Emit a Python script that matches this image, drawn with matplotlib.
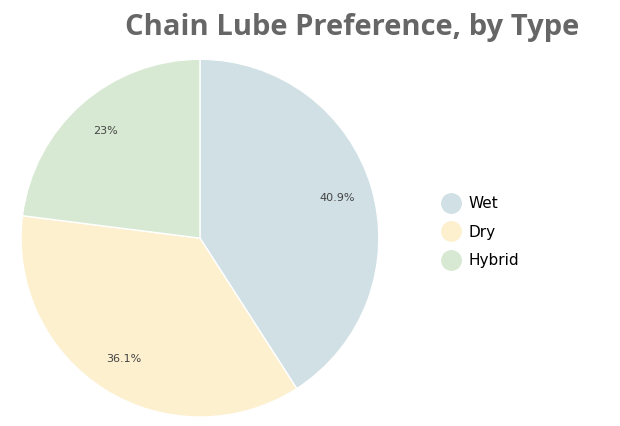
import matplotlib
matplotlib.use("Agg")
import matplotlib.pyplot as plt
from matplotlib.lines import Line2D

categories = ["Wet", "Dry", "Hybrid"]
values = [40.9, 36.1, 23.0]
colors = ["#d0e0e4", "#fdf0cf", "#d8e9d3"]

fig = plt.figure(figsize=(6.2, 4.26), dpi=100)
ax = fig.add_axes([0.034, 0.021, 0.577, 0.84])
wedges, texts, autotexts = ax.pie(values, colors=colors, startangle=90, counterclock=False,
                                  autopct=lambda p: f"{p:.1f}%".replace(".0%", "%"),
                                  pctdistance=0.8, radius=1,
                                  wedgeprops=dict(edgecolor="white", linewidth=1))
for t in autotexts:
    t.set_fontsize(8)
    t.set_color("#444444")
ax.set_aspect("equal")
ax.set_xlim(-1.0, 1.0)
ax.set_ylim(-1.0, 1.0)

fig.text(0.568, 0.935, "Chain Lube Preference, by Type", ha="center", va="center",
         fontsize=21, fontweight="bold", color="#666666", family="Open Sans")

handles = [Line2D([], [], marker="o", linestyle="", markersize=14, markerfacecolor=c,
                  markeredgecolor=c) for c in colors]
fig.legend(handles, categories, loc="center left", bbox_to_anchor=(0.68, 0.455),
           frameon=False, fontsize=11, handletextpad=0.2, labelspacing=0.9)

fig.savefig("out.png", dpi=100)
